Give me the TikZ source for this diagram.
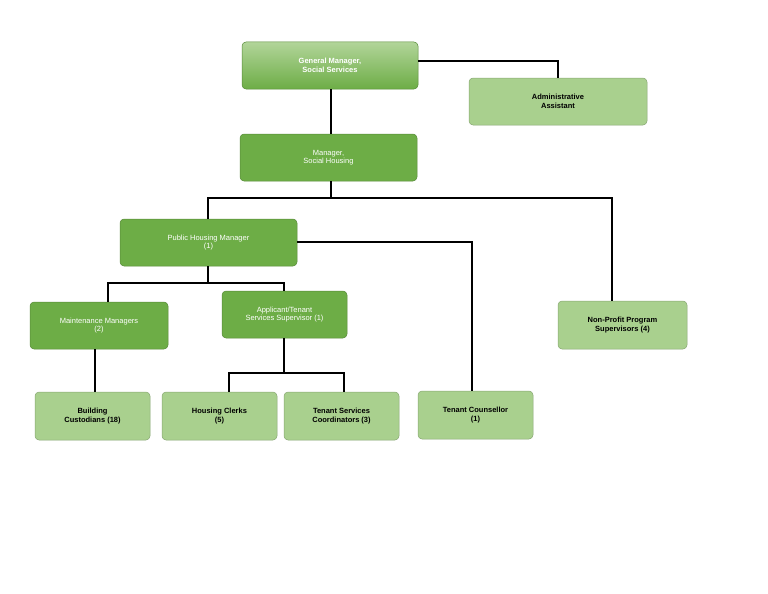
\documentclass[tikz,border=0pt]{standalone}
\usepackage{fontspec}
\setmainfont{Liberation Sans}
\begin{document}
\begin{tikzpicture}[x=1pt,y=-1pt,
 box/.style={rounded corners=4pt,draw=#1!80!black,line width=0.5pt,align=center,font=\fontsize{7.5}{8.5}\selectfont,inner sep=0pt},
 dark/.style={box=dg,fill=dg,text=white},
 light/.style={box=lg,fill=lg,text=black,font=\bfseries\fontsize{7.5}{8.5}\selectfont},
 ln/.style={line width=1.1pt,black}]
\definecolor{dg}{HTML}{6DAD46}
\definecolor{lg}{HTML}{A9D08E}
\useasboundingbox (0,0) rectangle (768,594);
\newcommand\bx[7]{\node[#1,minimum width=#4-#2,minimum height=#5-#3] (#6) at ({(#2+#4)/2},{(#3+#5)/2}) {#7};}
\node[box=dg,top color=lg!90!white,bottom color=dg,text=white,font=\bfseries\fontsize{7.5}{8.5}\selectfont,minimum width=176,minimum height=47] (gm) at (330,65.5) {General Manager,\\Social Services};
\bx{light}{469}{78}{647}{125}{adm}{Administrative\\Assistant}
\bx{dark}{240}{134}{417}{181}{mgr}{Manager,\\Social Housing}
\bx{dark}{120}{219}{297}{266}{phm}{Public Housing Manager\\(1)}
\bx{dark}{30}{302}{168}{349}{mm}{Maintenance Managers\\(2)}
\bx{dark}{222}{291}{347}{338}{ap}{Applicant/Tenant\\Services Supervisor (1)}
\bx{light}{558}{301}{687}{349}{np}{Non-Profit Program\\Supervisors (4)}
\bx{light}{35}{392}{150}{440}{bc}{Building\\Custodians (18)}
\bx{light}{162}{392}{277}{440}{hc}{Housing Clerks\\(5)}
\bx{light}{284}{392}{399}{440}{ts}{Tenant Services\\Coordinators (3)}
\bx{light}{418}{391}{533}{439}{tc}{Tenant Counsellor\\(1)}
\draw[ln] (gm.east|-0,61) -- (558,61) -- (558,78 -| adm.north);
\draw[ln] (331,0 |- gm.south) -- (331,0 |- mgr.north);
\draw[ln] (331,0 |- mgr.south) -- (331,198) coordinate (c1);
\draw[ln] (c1) -- (208,198) -- (208,0 |- phm.north);
\draw[ln] (c1) -- (612,198) -- (612,0 |- np.north);
\draw[ln] (phm.east|-0,242) -- (472,242) -- (472,0 |- tc.north);
\draw[ln] (208,0 |- phm.south) -- (208,283) coordinate (c2);
\draw[ln] (c2) -- (108,283) -- (108,0 |- mm.north);
\draw[ln] (c2) -- (284,283) -- (284,0 |- ap.north);
\draw[ln] (284,0 |- ap.south) -- (284,373) coordinate (c3);
\draw[ln] (c3) -- (229,373) -- (229,0 |- hc.north);
\draw[ln] (c3) -- (344,373) -- (344,0 |- ts.north);
\draw[ln] (95,0 |- mm.south) -- (95,0 |- bc.north);
\end{tikzpicture}
\end{document}
